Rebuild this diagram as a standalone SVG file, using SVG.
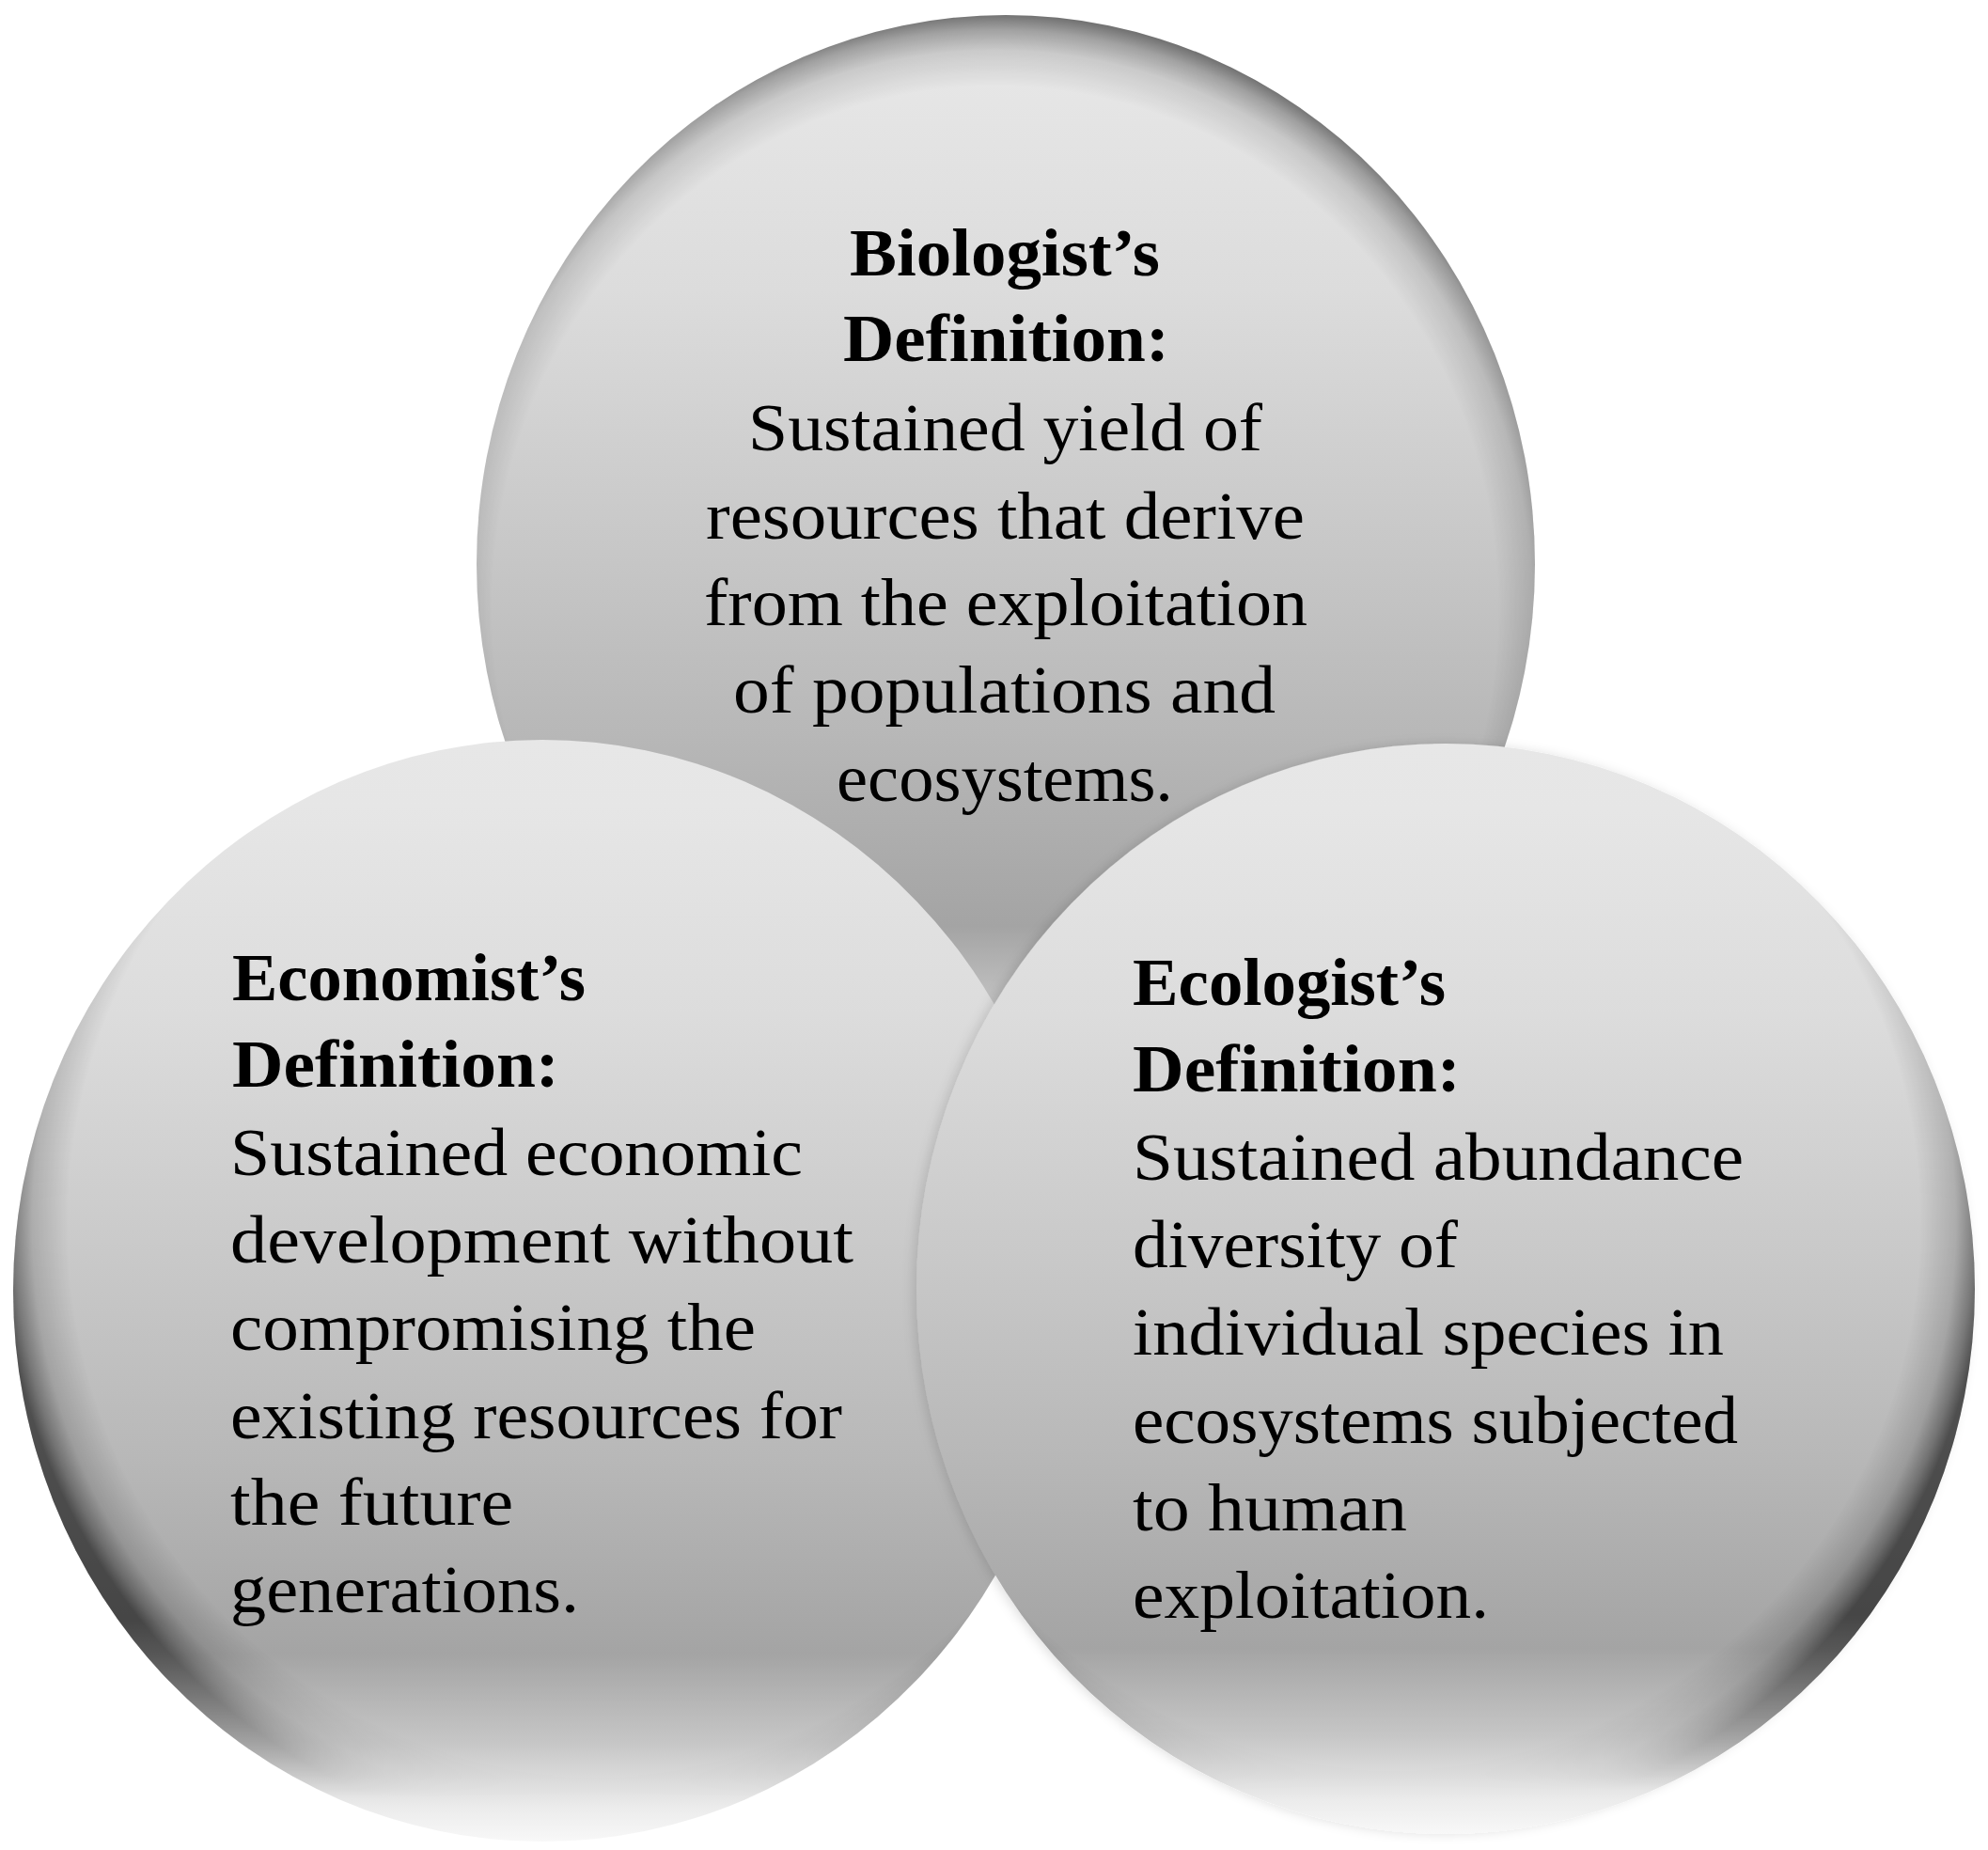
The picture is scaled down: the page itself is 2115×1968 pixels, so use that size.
<svg xmlns="http://www.w3.org/2000/svg" width="2115" height="1968" viewBox="0 0 2115 1968">
<defs>
<style>
.t{font-family:"Liberation Serif","DejaVu Serif",serif;font-size:72px;fill:#000;}
.b{font-weight:bold;}
</style>
<linearGradient id="base" x1="0" y1="0" x2="0" y2="1">
<stop offset="0" stop-color="#e7e7e7"/>
<stop offset="0.06" stop-color="#e6e6e6"/>
<stop offset="0.25" stop-color="#dcdcdc"/>
<stop offset="0.5" stop-color="#c6c6c6"/>
<stop offset="0.65" stop-color="#b8b8b8"/>
<stop offset="0.83" stop-color="#a4a4a4"/>
<stop offset="0.91" stop-color="#c6c6c6"/>
<stop offset="0.97" stop-color="#ececec"/>
<stop offset="1" stop-color="#f8f8f8"/>
</linearGradient>
<radialGradient id="rimTop" cx="0.49" cy="0.54" r="0.54">
<stop offset="0" stop-color="#000" stop-opacity="0"/>
<stop offset="0.88" stop-color="#000" stop-opacity="0"/>
<stop offset="0.94" stop-color="#000" stop-opacity="0.12"/>
<stop offset="0.975" stop-color="#000" stop-opacity="0.3"/>
<stop offset="1" stop-color="#000" stop-opacity="0.5"/>
</radialGradient>
<radialGradient id="rimLeft" cx="0.55" cy="0.44" r="0.56">
<stop offset="0" stop-color="#000" stop-opacity="0"/>
<stop offset="0.89" stop-color="#000" stop-opacity="0"/>
<stop offset="0.95" stop-color="#000" stop-opacity="0.15"/>
<stop offset="0.98" stop-color="#000" stop-opacity="0.38"/>
<stop offset="1" stop-color="#000" stop-opacity="0.58"/>
</radialGradient>
<radialGradient id="rimRight" cx="0.45" cy="0.44" r="0.56">
<stop offset="0" stop-color="#000" stop-opacity="0"/>
<stop offset="0.89" stop-color="#000" stop-opacity="0"/>
<stop offset="0.95" stop-color="#000" stop-opacity="0.15"/>
<stop offset="0.98" stop-color="#000" stop-opacity="0.38"/>
<stop offset="1" stop-color="#000" stop-opacity="0.58"/>
</radialGradient>
<linearGradient id="mg" x1="0" y1="0" x2="0" y2="1">
<stop offset="0" stop-color="#fff"/>
<stop offset="0.8" stop-color="#fff"/>
<stop offset="0.96" stop-color="#000"/>
</linearGradient>
<mask id="fadeBottom" maskContentUnits="objectBoundingBox">
<rect x="0" y="0" width="1" height="1" fill="url(#mg)"/>
</mask>
<filter id="edgeShadow" x="-5%" y="-5%" width="110%" height="110%">
<feDropShadow dx="-4" dy="0" stdDeviation="6" flood-color="#000" flood-opacity="0.12"/>
</filter>
</defs>

<g id="node-biologist">
<ellipse cx="1070" cy="600" rx="563" ry="584" fill="url(#base)"/>
<ellipse cx="1070" cy="600" rx="563" ry="584" fill="url(#rimTop)" mask="url(#fadeBottom)"/>
<text class="t b" x="904" y="293" textLength="330" lengthAdjust="spacingAndGlyphs">Biologist’s</text>
<text class="t b" x="897" y="384" textLength="347" lengthAdjust="spacingAndGlyphs">Definition:</text>
<text class="t" x="796" y="479" textLength="547" lengthAdjust="spacingAndGlyphs">Sustained yield of</text>
<text class="t" x="751" y="573" textLength="637" lengthAdjust="spacingAndGlyphs">resources that derive</text>
<text class="t" x="749" y="665" textLength="642" lengthAdjust="spacingAndGlyphs">from the exploitation</text>
<text class="t" x="780" y="758" textLength="577" lengthAdjust="spacingAndGlyphs">of populations and</text>
<text class="t" x="890" y="852" textLength="358" lengthAdjust="spacingAndGlyphs">ecosystems.</text>
</g>

<g id="node-economist">
<ellipse cx="577" cy="1373" rx="563" ry="586" fill="url(#base)"/>
<ellipse cx="577" cy="1373" rx="563" ry="586" fill="url(#rimLeft)" mask="url(#fadeBottom)"/>
<text class="t b" x="247" y="1064" textLength="376" lengthAdjust="spacingAndGlyphs">Economist’s</text>
<text class="t b" x="247" y="1156" textLength="348" lengthAdjust="spacingAndGlyphs">Definition:</text>
<text class="t" x="245" y="1250" textLength="609" lengthAdjust="spacingAndGlyphs">Sustained economic</text>
<text class="t" x="245" y="1343" textLength="663" lengthAdjust="spacingAndGlyphs">development without</text>
<text class="t" x="245" y="1436" textLength="559" lengthAdjust="spacingAndGlyphs">compromising the</text>
<text class="t" x="245" y="1530" textLength="651" lengthAdjust="spacingAndGlyphs">existing resources for</text>
<text class="t" x="245" y="1622" textLength="301" lengthAdjust="spacingAndGlyphs">the future</text>
<text class="t" x="245" y="1715" textLength="371" lengthAdjust="spacingAndGlyphs">generations.</text>
</g>

<g id="node-ecologist">
<ellipse cx="1538" cy="1371" rx="563" ry="580" fill="url(#base)" filter="url(#edgeShadow)"/>
<ellipse cx="1538" cy="1371" rx="563" ry="580" fill="url(#rimRight)" mask="url(#fadeBottom)"/>
<text class="t b" x="1205" y="1069" textLength="333" lengthAdjust="spacingAndGlyphs">Ecologist’s</text>
<text class="t b" x="1205" y="1161" textLength="349" lengthAdjust="spacingAndGlyphs">Definition:</text>
<text class="t" x="1205" y="1255" textLength="650" lengthAdjust="spacingAndGlyphs">Sustained abundance</text>
<text class="t" x="1205" y="1348" textLength="346" lengthAdjust="spacingAndGlyphs">diversity of</text>
<text class="t" x="1205" y="1441" textLength="629" lengthAdjust="spacingAndGlyphs">individual species in</text>
<text class="t" x="1205" y="1535" textLength="644" lengthAdjust="spacingAndGlyphs">ecosystems subjected</text>
<text class="t" x="1205" y="1628" textLength="292" lengthAdjust="spacingAndGlyphs">to human</text>
<text class="t" x="1205" y="1721" textLength="379" lengthAdjust="spacingAndGlyphs">exploitation.</text>
</g>
</svg>
